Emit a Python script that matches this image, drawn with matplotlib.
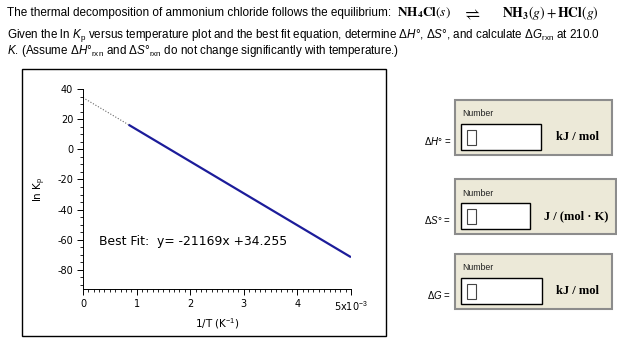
import matplotlib
matplotlib.use("Agg")
import matplotlib.pyplot as plt
from matplotlib.patches import Rectangle
from matplotlib.ticker import FixedLocator, MultipleLocator

plt.rcParams["font.family"] = ["Liberation Sans", "DejaVu Sans"]
plt.rcParams["mathtext.fontset"] = "custom"
plt.rcParams["mathtext.rm"] = "Liberation Sans"
plt.rcParams["mathtext.it"] = "Liberation Sans:italic"
plt.rcParams["mathtext.bf"] = "Liberation Sans:bold"

# fit line (best fit: y = -21169x + 34.255)
fit_x = [0.00085, 0.005]
fit_y = [16.3, -71.6]
extrap_x = [0.0, 0.00085]
extrap_y = [34.255, 16.3]
fit_text = "Best Fit:  y= -21169x +34.255"

x_ticks = [0, 0.001, 0.002, 0.003, 0.004, 0.005]
x_tick_labels = ["0", "1", "2", "3", "4", r"5x10$^{-3}$"]
y_ticks = [40, 20, 0, -20, -40, -60, -80]

# answer boxes: label, units
answers = [
    (r"$\mathit{ΔH}$° =", "kJ / mol"),
    (r"$\mathit{ΔS}$° =", "J / (mol · K)"),
    (r"$\mathit{ΔG}$ =", "kJ / mol"),
]

W, H = 617, 342
fig = plt.figure(figsize=(W / 100, H / 100), dpi=100)

# overlay in pixel coordinates
ov = fig.add_axes([0, 0, 1, 1])
ov.set_xlim(0, W)
ov.set_ylim(H, 0)
ov.axis("off")

ov.text(7, 13, "The thermal decomposition of ammonium chloride follows the equilibrium:",
        fontsize=8.5, va="center", ha="left")
ov.text(397, 13, r"$\mathbf{NH_{4}Cl}\left(s\right)$", fontsize=9.5, va="center",
        ha="left", math_fontfamily="stix")
ov.text(471, 15, r"$\rightleftharpoons$", fontsize=12, va="center", ha="center",
        math_fontfamily="stix")
ov.text(502, 13, r"$\mathbf{NH_{3}}\left(g\right)+\mathbf{HCl}\left(g\right)$",
        fontsize=9.8, va="center", ha="left", math_fontfamily="stix")

ov.text(7, 36, r"Given the ln $\mathit{K}_\mathrm{p}$ versus temperature plot and the best fit "
        r"equation, determine $\mathit{ΔH}$°, $\mathit{ΔS}$°, and calculate "
        r"$\mathit{ΔG}_\mathrm{rxn}$ at 210.0", fontsize=8.4, va="center", ha="left")
ov.text(7, 51, r"$\mathit{K}$. (Assume $\mathit{ΔH}\mathrm{°}_\mathrm{rxn}$ and "
        r"$\mathit{ΔS}\mathrm{°}_\mathrm{rxn}$ do not change significantly with temperature.)",
        fontsize=8.4, va="center", ha="left")

# chart frame
ov.add_patch(Rectangle((22, 69), 364, 267, fill=False, ec="black", lw=1))

# answer panels
tops = [100, 179, 254]
rights = [612, 616, 612]
inner_rights = [541, 530, 542]
unit_x = [577, 576, 577]
for (label, unit), top, right, inr, ux in zip(answers, tops, rights, inner_rights, unit_x):
    ov.add_patch(Rectangle((455, top), right - 455, 55, fc="#ECE9D8", ec="#8C8C8C", lw=1.5))
    ov.text(462, top + 14, "Number", fontsize=6.3, va="center", ha="left", color="#222222")
    ov.add_patch(Rectangle((461, top + 24), inr - 461, 26, fc="white", ec="black", lw=1))
    ov.add_patch(Rectangle((467, top + 30), 9, 15, fc="white", ec="#444444", lw=0.8))
    ov.text(451, top + 41, label, fontsize=7, va="center", ha="right")
    ov.text(ux, top + 37, unit, fontsize=9, va="center", ha="center",
            family="Liberation Serif", weight="bold")

# chart axes
ax = fig.add_axes([83 / W, (H - 289) / H, 268 / W, 200 / H])
ax.patch.set_alpha(0)
ax.plot(extrap_x, extrap_y, color="#666666", lw=0.8, ls=(0, (1, 1.6)))
ax.plot(fit_x, fit_y, color="#1C1C9A", lw=1.6, solid_capstyle="butt")
ax.text(0.0003, -61, fit_text, fontsize=8.9, family="DejaVu Sans", va="center", ha="left")

ax.set_xlim(0, 0.005)
ax.set_ylim(-92.7, 40)
for s in ["top", "right"]:
    ax.spines[s].set_visible(False)
ax.spines["left"].set_linewidth(0.7)
ax.spines["bottom"].set_linewidth(0.7)

ax.xaxis.set_major_locator(FixedLocator(x_ticks))
ax.set_xticklabels(x_tick_labels, family="DejaVu Sans", fontsize=7)
ax.xaxis.set_minor_locator(MultipleLocator(0.0001))
ax.yaxis.set_major_locator(FixedLocator(y_ticks))
ax.set_yticklabels([str(v) for v in y_ticks], family="DejaVu Sans", fontsize=7)
ax.yaxis.set_minor_locator(MultipleLocator(5))
ax.tick_params(axis="both", which="major", direction="out", length=4, width=0.7, pad=3)
ax.tick_params(axis="both", which="minor", direction="out", length=2.5, width=0.6)

ax.set_ylabel(r"ln K$_\mathrm{p}$", fontsize=7.5, family="DejaVu Sans", labelpad=7)
ax.set_xlabel(r"1/T (K$^{\mathrm{-1}}$)", fontsize=7.5, family="DejaVu Sans", labelpad=3)

fig.savefig("out.png", dpi=100)
